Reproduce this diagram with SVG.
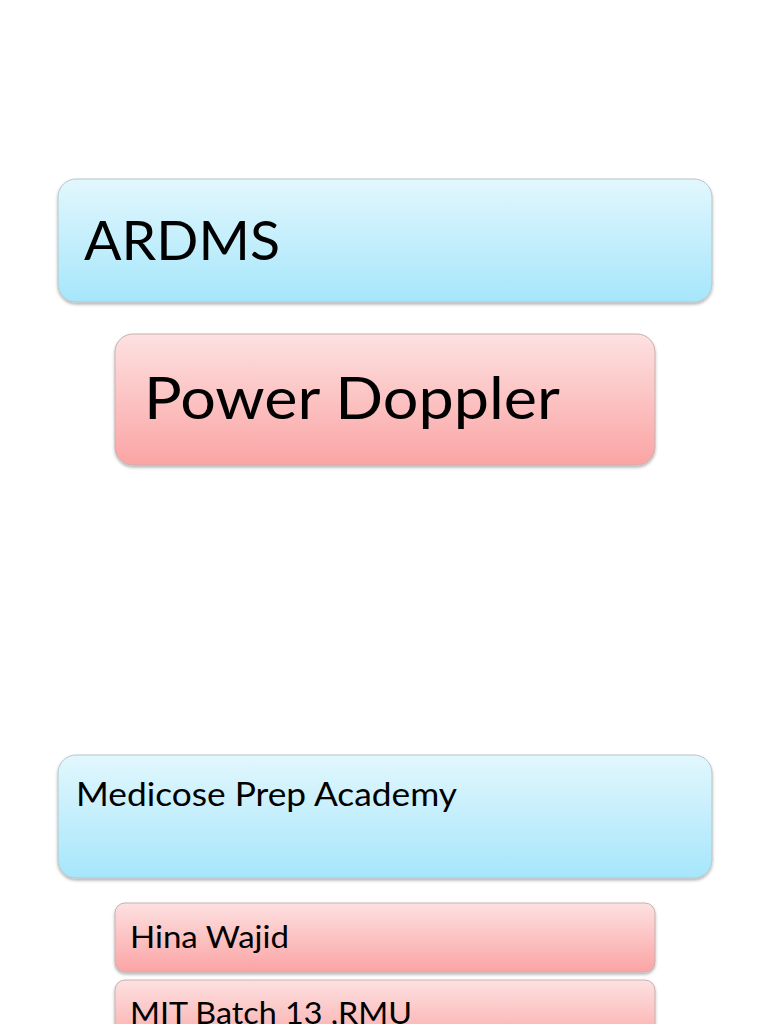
<svg xmlns="http://www.w3.org/2000/svg" width="768" height="1024" viewBox="0 0 768 1024">
<defs>
<linearGradient id="blue" x1="0" y1="0" x2="0" y2="1"><stop offset="0" stop-color="#e2f7fd"/><stop offset="1" stop-color="#a6e6fb"/></linearGradient>
<linearGradient id="red" x1="0" y1="0" x2="0" y2="1"><stop offset="0" stop-color="#fde1e1"/><stop offset="1" stop-color="#fba4a4"/></linearGradient>
<filter id="sh" x="-5%" y="-5%" width="110%" height="120%"><feDropShadow dx="0" dy="2" stdDeviation="1.5" flood-color="#000" flood-opacity="0.3"/></filter>
</defs>
<style>
.b{fill:url(#blue);stroke:#b8c4c8;stroke-width:1;filter:url(#sh)}
.r{fill:url(#red);stroke:#c8b0b0;stroke-width:1;filter:url(#sh)}
text{font-family:Lato,"Open Sans",sans-serif;fill:#000}
</style>
<rect width="768" height="1024" fill="#fff"/>
<g id="ardms"><rect class="b" x="58" y="179" width="654" height="123" rx="18"/><text x="84" y="260" font-size="55" textLength="196" lengthAdjust="spacingAndGlyphs">ARDMS</text></g>
<g id="power"><rect class="r" x="115" y="334" width="540" height="131" rx="18"/><text x="144" y="419" font-size="58" textLength="416" lengthAdjust="spacingAndGlyphs">Power Doppler</text></g>
<g id="medicose"><rect class="b" x="58" y="755" width="654" height="123" rx="18"/><text x="76" y="806" font-size="32" textLength="381" lengthAdjust="spacingAndGlyphs">Medicose Prep Academy</text></g>
<g id="hina"><rect class="r" x="115" y="903" width="540" height="69" rx="10"/><text x="130" y="948" font-size="30" textLength="159" lengthAdjust="spacingAndGlyphs">Hina Wajid</text></g>
<g id="mit"><rect class="r" x="115" y="980" width="540" height="70" rx="10"/><text x="130" y="1024" font-size="30" textLength="282" lengthAdjust="spacingAndGlyphs">MIT Batch 13 ,RMU</text></g>
<g id="connectors"/>
</svg>
